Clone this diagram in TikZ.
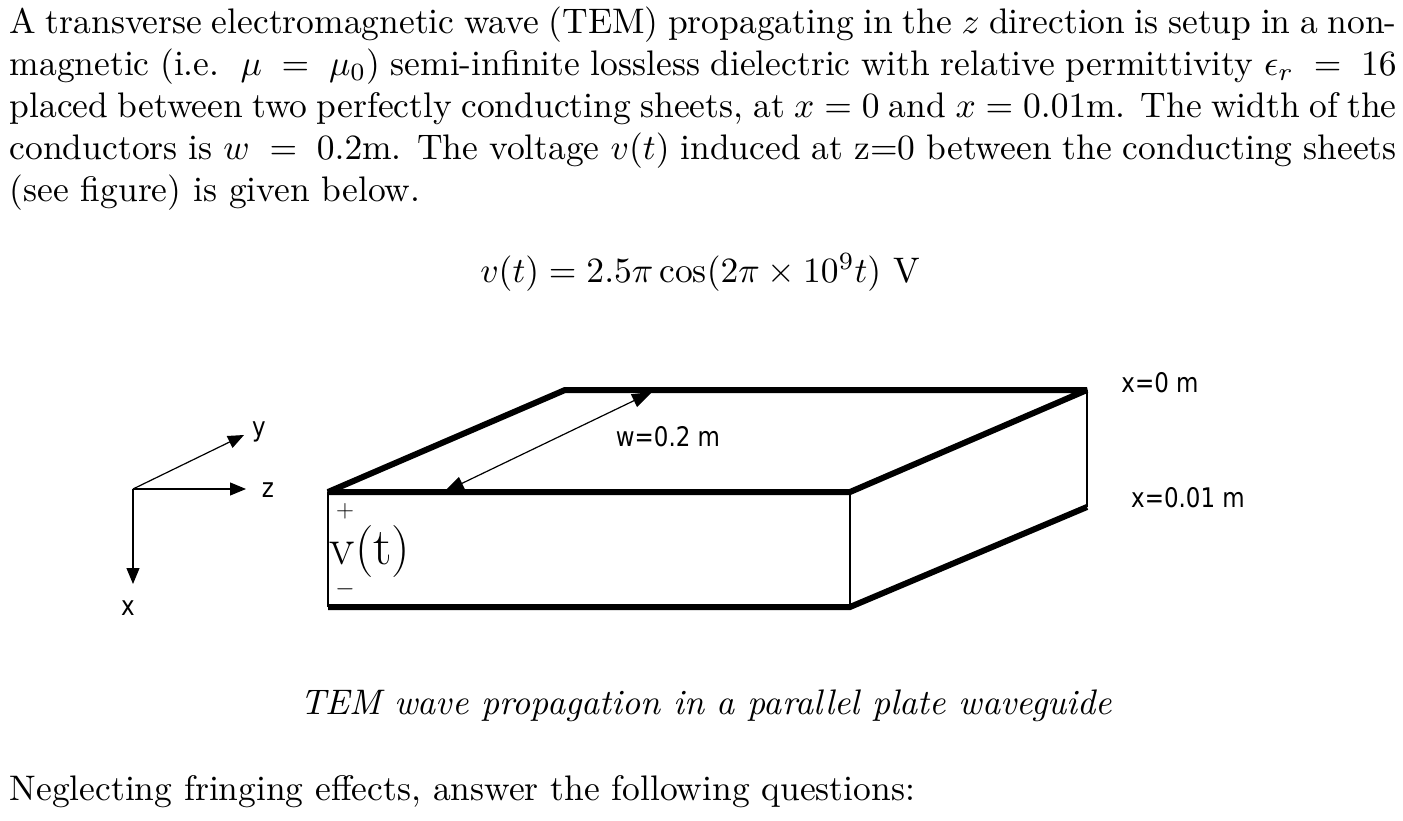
\documentclass[tikz,border=0pt]{standalone}
\usepackage{fontspec}
\newfontfamily\dvs{DejaVu Sans}
\usetikzlibrary{arrows.meta}
\begin{document}
\begin{tikzpicture}[x=1pt,y=-1pt,
  txt/.style={scale=3.55, transform shape, inner sep=0},
  thick sheet/.style={line width=6pt},
  thin edge/.style={line width=1.5pt},
  lbl/.style={font=\dvs\fontsize{27}{30}\selectfont\addfontfeatures{FakeStretch=0.85}},
  ax/.style={line width=1.2pt,-{Triangle[length=16pt,width=13pt]}}]
\useasboundingbox (0,0) rectangle (1403,821);
\node[txt, anchor=north west, text width=390.7pt, align=justify, font=\fontsize{10}{11.83}\selectfont] (para) at (9,6)
{A transverse electromagnetic wave (TEM) propagating in the $z$ direction is setup in a non-\linebreak magnetic (i.e.\ \ $\mu\;=\;\mu_0$) semi-infinite lossless dielectric with relative permittivity $\epsilon_r\;=\;16$\linebreak placed between two perfectly conducting sheets, at $x=0$ and $x=0.01$m. The width of the\linebreak conductors is $w\;=\;0.2$m. The voltage $v(t)$ induced at z=0 between the conducting sheets\linebreak (see figure) is given below.};
\node[txt] (eq) at (700,272) {$v(t) = 2.5\pi\cos(2\pi\times10^9t)$ V};
% box
\coordinate (bl) at (565,390); \coordinate (br) at (1087,390);
\coordinate (fl) at (328,492); \coordinate (fr) at (850,492);
\coordinate (fbl) at (328,607); \coordinate (fbr) at (850,607);
\coordinate (bbr) at (1087,507);
\draw[thin edge] (fl) -- (fbl) (fr) -- (fbr) (br) -- (bbr);
\draw[thick sheet, line join=bevel] (fl) -- (bl) -- (br) -- (fr) -- cycle;
\draw[thick sheet] (fbl) -- (fbr) -- (bbr);
\coordinate (wa) at (652,392); \coordinate (wb) at (444,492);
\draw[line width=1.2pt,{Triangle[length=20pt,width=14pt]}-{Triangle[length=20pt,width=14pt]}] (wb) -- (wa);
\node[lbl] (wl) at (668,437) {w=0.2 m};
\node[lbl] (x0) at (1160,383) {x=0 m};
\node[lbl] (x1) at (1188,498) {x=0.01 m};
% axes
\coordinate (o) at (133,489);
\coordinate (ye) at (244,435); \coordinate (ze) at (246,489); \coordinate (xe) at (133,584);
\draw[ax] (o) -- (ye);
\draw[ax] (o) -- (ze);
\draw[ax] (o) -- (xe);
\node[lbl] (yl) at (259,432) {y};
\node[lbl] (zl) at (268,490) {z};
\node[lbl] (xl) at (128,608) {x};
% v(t)
\node[font=\fontsize{40}{44}\selectfont, inner sep=0] (plus) at (345,511) {$+$};
\node[font=\fontsize{52}{56}\selectfont, inner sep=0] (vt) at (370,552) {v(t)};
\node[font=\fontsize{40}{44}\selectfont, inner sep=0] (minus) at (345,589) {$-$};
\node[txt, font=\itshape] (cap) at (706,706) {TEM wave propagation in a parallel plate waveguide};
\node[txt, anchor=base west] (last) at (9,800) {Neglecting fringing effects, answer the following questions:};
\end{tikzpicture}
\end{document}
